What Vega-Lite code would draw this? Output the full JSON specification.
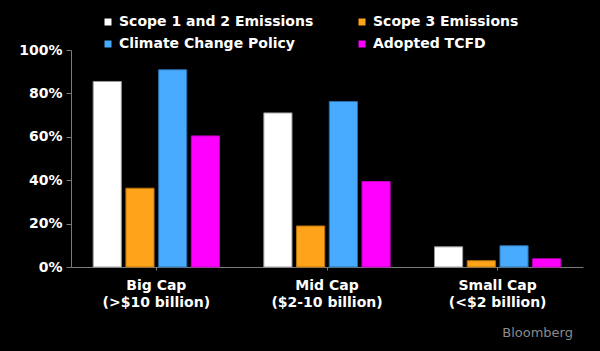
{
  "$schema": "https://vega.github.io/schema/vega-lite/v6.json",
  "width": 512,
  "height": 217,
  "autosize": "none",
  "padding": {"left": 71, "top": 50, "right": 17, "bottom": 84},
  "background": "#000000",
  "title": {
    "text": "Bloomberg",
    "orient": "bottom",
    "anchor": "end",
    "color": "#8a8a8a",
    "font": "DejaVu Sans",
    "fontSize": 13,
    "fontWeight": "normal",
    "offset": 17,
    "dx": -10
  },
  "data": {
    "values": [
      {"cap": "Big Cap|(>$10 billion)", "series": "Scope 1 and 2 Emissions", "value": 85.5},
      {"cap": "Big Cap|(>$10 billion)", "series": "Scope 3 Emissions", "value": 36.3},
      {"cap": "Big Cap|(>$10 billion)", "series": "Climate Change Policy", "value": 90.9},
      {"cap": "Big Cap|(>$10 billion)", "series": "Adopted TCFD", "value": 60.4},
      {"cap": "Mid Cap|($2-10 billion)", "series": "Scope 1 and 2 Emissions", "value": 71.0},
      {"cap": "Mid Cap|($2-10 billion)", "series": "Scope 3 Emissions", "value": 18.9},
      {"cap": "Mid Cap|($2-10 billion)", "series": "Climate Change Policy", "value": 76.3},
      {"cap": "Mid Cap|($2-10 billion)", "series": "Adopted TCFD", "value": 39.4},
      {"cap": "Small Cap|(<$2 billion)", "series": "Scope 1 and 2 Emissions", "value": 9.3},
      {"cap": "Small Cap|(<$2 billion)", "series": "Scope 3 Emissions", "value": 2.9},
      {"cap": "Small Cap|(<$2 billion)", "series": "Climate Change Policy", "value": 9.8},
      {"cap": "Small Cap|(<$2 billion)", "series": "Adopted TCFD", "value": 3.8}
    ]
  },
  "mark": {"type": "bar", "strokeWidth": 1},
  "encoding": {
    "x": {
      "field": "cap",
      "type": "nominal",
      "sort": null,
      "scale": {"paddingInner": 0.26, "paddingOuter": 0.13},
      "axis": {
        "title": null,
        "labelAngle": 0,
        "labelExpr": "split(datum.label, '|')",
        "labelLineHeight": 17.5,
        "labelPadding": 8,
        "labelLimit": 300,
        "tickSize": 3,
        "domainColor": "#7a7a7a",
        "tickColor": "#7a7a7a",
        "labelColor": "#ffffff",
        "labelFont": "DejaVu Sans",
        "labelFontSize": 14,
        "labelFontWeight": "bold"
      }
    },
    "xOffset": {
      "field": "series",
      "type": "nominal",
      "sort": ["Scope 1 and 2 Emissions", "Scope 3 Emissions", "Climate Change Policy", "Adopted TCFD"],
      "scale": {"paddingInner": 0.14, "paddingOuter": 0}
    },
    "y": {
      "field": "value",
      "type": "quantitative",
      "scale": {"domain": [0, 100], "nice": false},
      "axis": {
        "title": null,
        "grid": false,
        "values": [0, 20, 40, 60, 80, 100],
        "labelExpr": "datum.value + '%'",
        "tickSize": 5,
        "labelPadding": 4,
        "domainColor": "#7a7a7a",
        "tickColor": "#7a7a7a",
        "labelColor": "#ffffff",
        "labelFont": "DejaVu Sans",
        "labelFontSize": 14,
        "labelFontWeight": "bold"
      }
    },
    "color": {
      "field": "series",
      "type": "nominal",
      "sort": ["Scope 1 and 2 Emissions", "Scope 3 Emissions", "Climate Change Policy", "Adopted TCFD"],
      "scale": {
        "domain": ["Scope 1 and 2 Emissions", "Scope 3 Emissions", "Climate Change Policy", "Adopted TCFD"],
        "range": ["#ffffff", "#ffa31a", "#49abff", "#ff00ff"]
      },
      "legend": {
        "title": null,
        "orient": "none",
        "legendX": 30,
        "legendY": -35,
        "direction": "horizontal",
        "columns": 2,
        "columnPadding": 41,
        "rowPadding": 8,
        "padding": 0,
        "symbolType": "square",
        "symbolSize": 49,
        "symbolStrokeWidth": 0,
        "labelOffset": 4,
        "labelLimit": 400,
        "labelColor": "#ffffff",
        "labelFont": "DejaVu Sans",
        "labelFontSize": 14,
        "labelFontWeight": "bold"
      }
    },
    "stroke": {
      "field": "series",
      "type": "nominal",
      "scale": {
        "domain": ["Scope 1 and 2 Emissions", "Scope 3 Emissions", "Climate Change Policy", "Adopted TCFD"],
        "range": ["#9a9a9a", "#b87408", "#2a6eaa", "#c000c0"]
      },
      "legend": null
    }
  },
  "config": {
    "view": {"stroke": null}
  }
}
